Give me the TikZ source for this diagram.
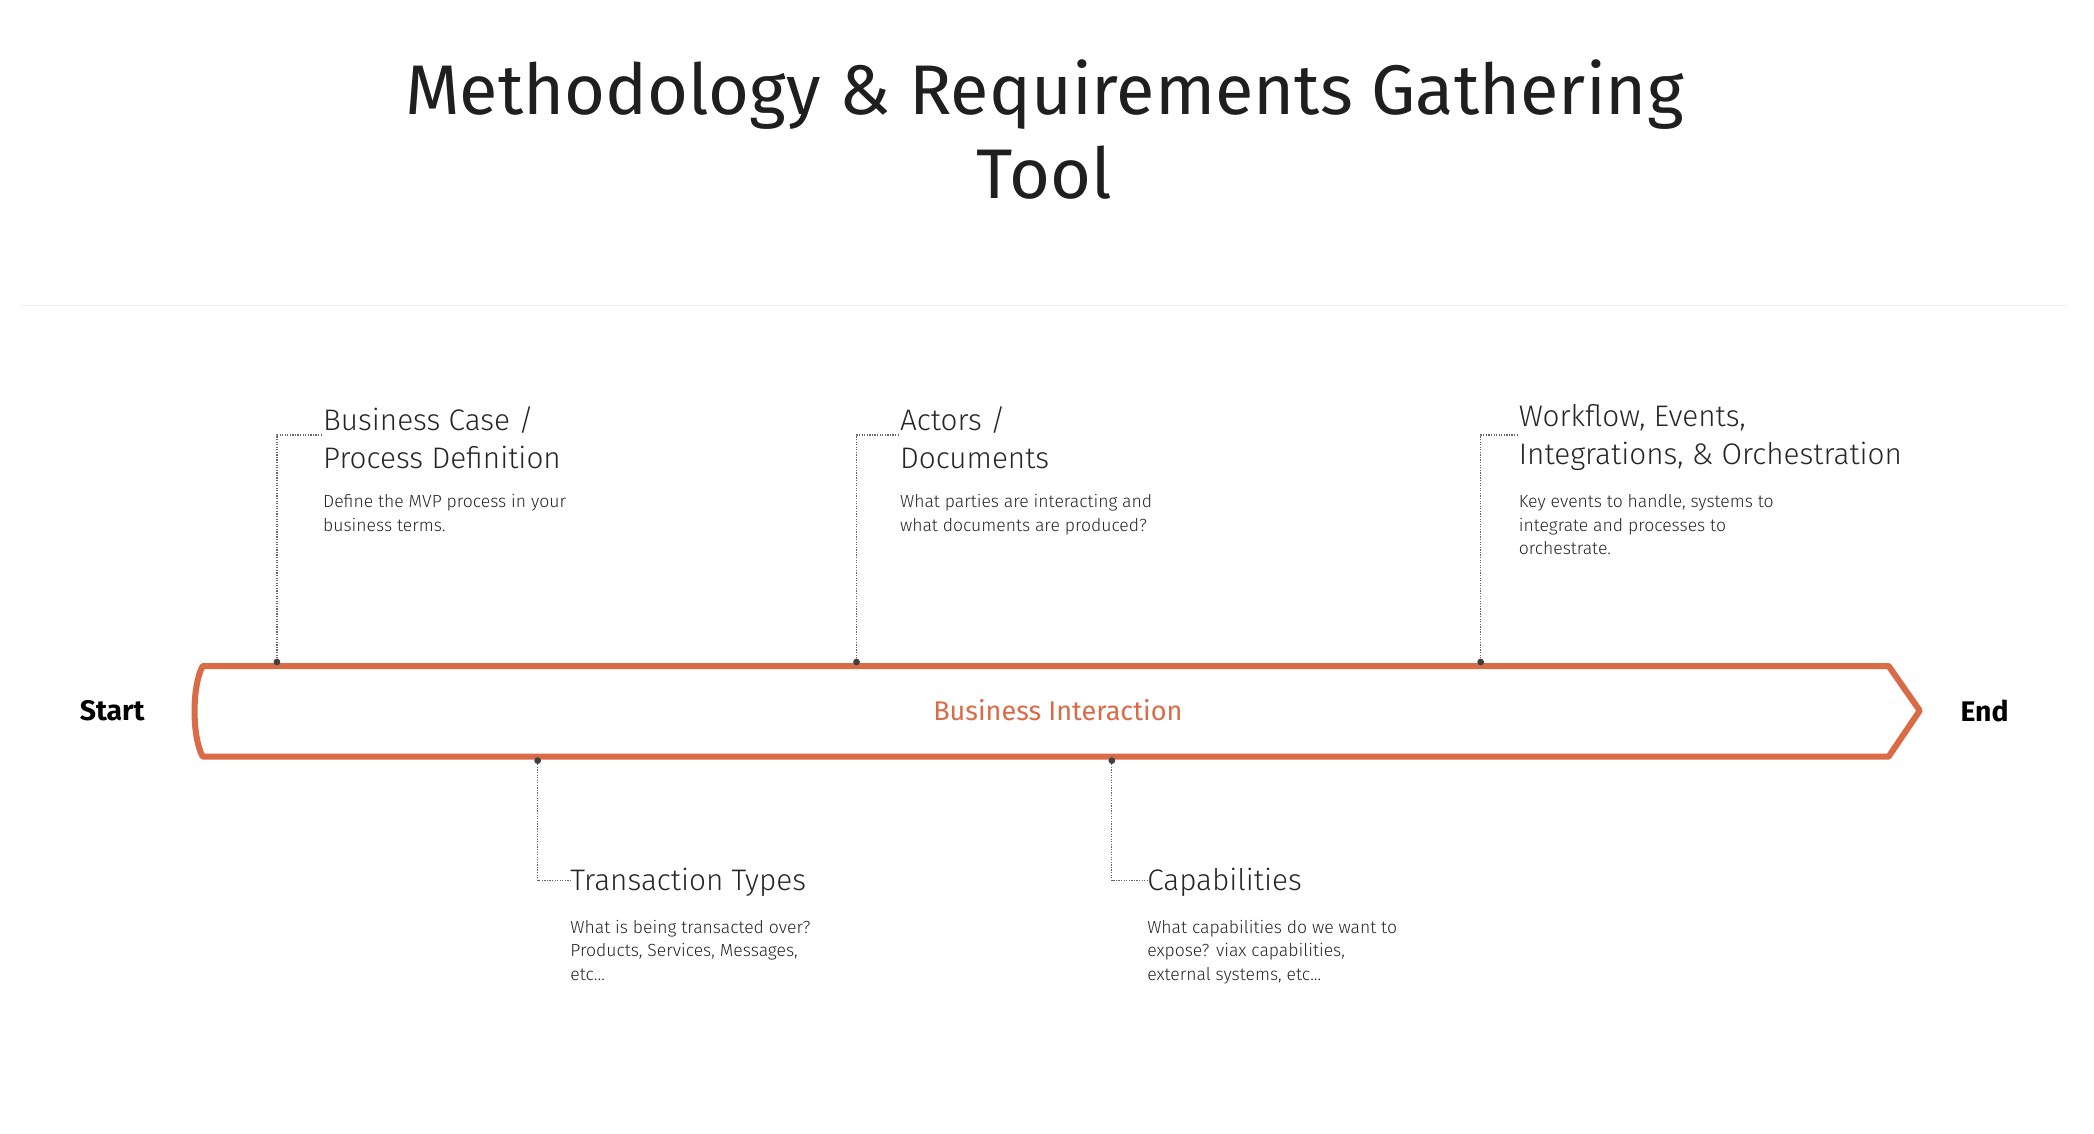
\documentclass[tikz,border=0pt]{standalone}
\usepackage{fontspec}
\setmainfont{Fira Sans}
\newfontfamily\lightf{Fira Sans Light}
\begin{document}
\begin{tikzpicture}[x=1pt,y=-1pt,
  orng/.style={draw=accent,line width=4.5pt,line join=round},
  lead/.style={draw=gray!80!black,densely dotted,line width=0.9pt},
  pin/.style={circle,fill=darkgray,inner sep=0pt,minimum size=5pt},
  ttl/.style={anchor=west,align=left,font=\lightf\fontsize{22}{28.5}\selectfont,text=black!85,inner sep=0pt},
  dsc/.style={anchor=north west,align=left,font=\lightf\fontsize{13}{17.3}\selectfont,text=black!85,inner sep=0pt}]
\definecolor{accent}{HTML}{D96B47}
\useasboundingbox (0,0) rectangle (1550,839);
\node[font=\fontsize{52}{62}\selectfont,text=black!88,align=center] (title) at (773,96) {Methodology \& Requirements Gathering\\Tool};
\draw[black!6,line width=0.6pt] (15,226) -- (1530,226);
\draw[orng] (150,493) -- (1398,493) -- (1421,526) -- (1398,560) -- (150,560) .. controls (142,545) and (142,508) .. cycle;
\node[text=accent,font=\fontsize{20}{24}\selectfont] (bi) at (783,526) {Business Interaction};
\node[font=\bfseries\fontsize{21}{24}\selectfont] (start) at (83,526) {Start};
\node[font=\bfseries\fontsize{21}{24}\selectfont] (end) at (1469,526) {End};
% top
\node[pin] (p1) at (205,490) {}; \coordinate (c1) at (205,322);
\node[ttl] (t1) at (239,324) {Business Case /\\Process Definition};
\node[dsc] (d1) at (239,366) {Define the MVP process in your\\business terms.};
\draw[lead] (p1) -- (c1) -- (t1.west|-c1);
\node[pin] (p2) at (634,490) {}; \coordinate (c2) at (634,322);
\node[ttl] (t2) at (666,324) {Actors /\\Documents};
\node[dsc] (d2) at (666,366) {What parties are interacting and\\what documents are produced?};
\draw[lead] (p2) -- (c2) -- (t2.west|-c2);
\node[pin] (p3) at (1096,490) {}; \coordinate (c3) at (1096,322);
\node[ttl] (t3) at (1124,324) {Workflow, Events,\\Integrations, \& Orchestration};
\node[dsc] (d3) at (1124,366) {Key events to handle, systems to\\integrate and processes to\\orchestrate.};
\draw[lead] (p3) -- (c3) -- (t3.west|-c3);
% bottom
\node[pin] (p4) at (398,563) {}; \coordinate (c4) at (398,652);
\node[ttl] (t4) at (422,653) {Transaction Types};
\node[dsc] (d4) at (422,681) {What is being transacted over?\\Products, Services, Messages,\\etc...};
\draw[lead] (p4) -- (c4) -- (t4.west|-c4);
\node[pin] (p5) at (823,563) {}; \coordinate (c5) at (823,652);
\node[ttl] (t5) at (849,653) {Capabilities};
\node[dsc] (d5) at (849,681) {What capabilities do we want to\\expose? viax capabilities,\\external systems, etc...};
\draw[lead] (p5) -- (c5) -- (t5.west|-c5);
\end{tikzpicture}
\end{document}
